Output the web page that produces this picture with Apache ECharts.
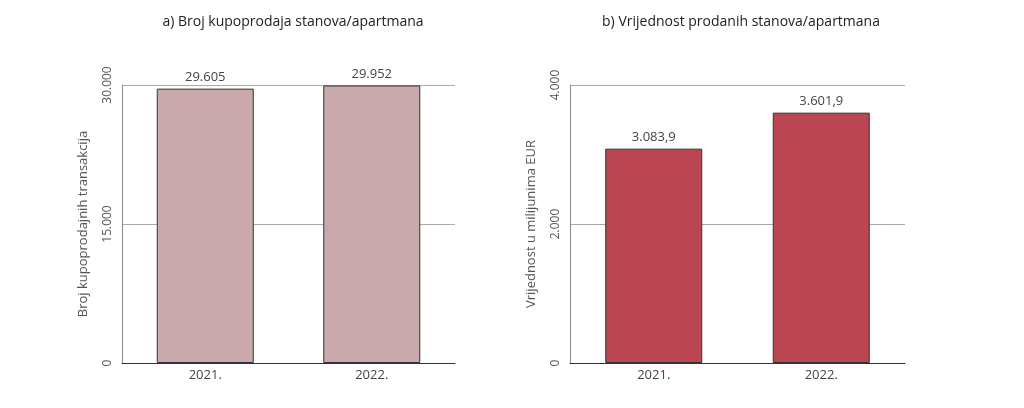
<!DOCTYPE html>
<html><head><meta charset="utf-8">
<script src="https://cdn.jsdelivr.net/npm/echarts@6/dist/echarts.min.js"></script>
<style>html,body{margin:0;background:#fff}#c{width:1024px;height:408px}</style>
</head><body><div id="c"></div>
<script>
const categories = ['2021.', '2022.'];
const transakcije = [29605, 29952];
const vrijednost = [3083.9, 3601.9];
const ticksLeft = [0, 15000, 30000];
const ticksRight = [0, 2000, 4000];
function fmt(v, d) {
  const s = v.toFixed(d).split('.');
  const i = s[0].replace(/\B(?=(\d{3})+(?!\d))/g, '.');
  return s.length > 1 ? i + ',' + s[1] : i;
}
const font = 'Open Sans';
const chart = echarts.init(document.getElementById('c'));
function yAxis(idx, max, interval, name) {
  return {
    gridIndex: idx, min: 0, max: max, interval: interval, name: name,
    nameLocation: 'middle', nameGap: 32, nameRotate: 90,
    nameTextStyle: {color: '#555', fontSize: 13, fontFamily: font},
    axisLine: {show: true, lineStyle: {color: '#888'}},
    axisTick: {show: false},
    axisLabel: {rotate: 90, color: '#555', fontSize: 12, fontFamily: font, margin: 8,
      formatter: v => fmt(v, 0)},
    splitLine: {lineStyle: {color: '#aaa'}}
  };
}
function xAxis(idx) {
  return {
    type: 'category', gridIndex: idx, data: categories,
    axisLine: {lineStyle: {color: '#333'}}, axisTick: {show: false},
    axisLabel: {color: '#444', fontSize: 13, fontFamily: font, margin: 6}
  };
}
chart.setOption({
  animation: false,
  title: [
    {text: 'a) Broj kupoprodaja stanova/apartmana', left: 288, top: 10, textAlign: 'center',
      textStyle: {fontSize: 14, fontWeight: 'normal', color: '#222', fontFamily: font}},
    {text: 'b) Vrijednost prodanih stanova/apartmana', left: 736, top: 10, textAlign: 'center',
      textStyle: {fontSize: 14, fontWeight: 'normal', color: '#222', fontFamily: font}}
  ],
  grid: [
    {left: 122, right: 569, top: 85, bottom: 45},
    {left: 570, right: 119, top: 85, bottom: 45}
  ],
  xAxis: [xAxis(0), xAxis(1)],
  yAxis: [yAxis(0, 30000, 15000, 'Broj kupoprodajnih transakcija'),
          yAxis(1, 4000, 2000, 'Vrijednost u milijunima EUR')],
  series: [
    {type: 'bar', xAxisIndex: 0, yAxisIndex: 0, data: transakcije, barWidth: 97,
      itemStyle: {color: '#c9a9ac', borderColor: '#333', borderWidth: 1},
      label: {show: true, position: 'top', color: '#444', fontSize: 13, fontFamily: font,
        formatter: p => fmt(p.value, 0)}},
    {type: 'bar', xAxisIndex: 1, yAxisIndex: 1, data: vrijednost, barWidth: 97,
      itemStyle: {color: '#b94650', borderColor: '#333', borderWidth: 1},
      label: {show: true, position: 'top', color: '#444', fontSize: 13, fontFamily: font,
        formatter: p => fmt(p.value, 1)}}
  ]
});
</script></body></html>
